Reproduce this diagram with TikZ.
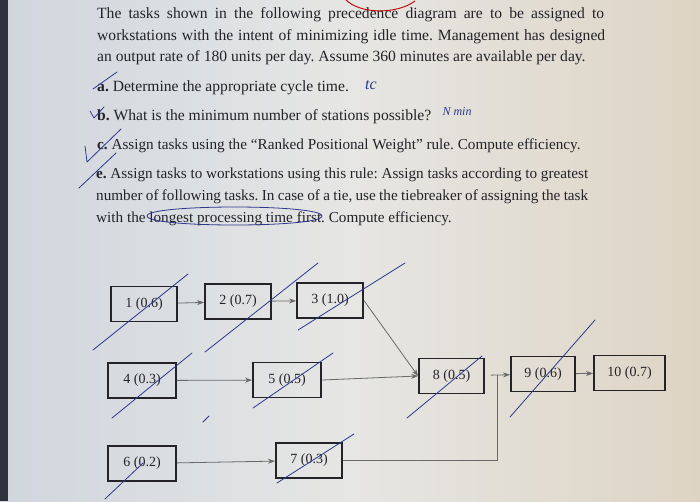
\documentclass[tikz,border=0pt]{standalone}
\usepackage{fontspec}
\setmainfont{Liberation Serif}
\usetikzlibrary{arrows.meta}
\tikzset{>={Stealth[length=7pt,width=5pt]}}
\frenchspacing
\definecolor{ink}{RGB}{35,35,40}
\definecolor{penblue}{RGB}{45,55,140}
\definecolor{wire}{RGB}{105,105,105}
\definecolor{pageL}{RGB}{208,214,222}
\definecolor{pageM}{RGB}{230,230,228}
\definecolor{pageR}{RGB}{222,212,196}
\definecolor{edge}{RGB}{45,50,60}

\begin{document}
\begin{tikzpicture}[x=1pt,y=-1pt,
  task/.style={draw=ink,line width=1.9pt,minimum height=35pt,inner sep=0pt,
    text=ink,font=\fontsize{14}{16}\selectfont},
  flow/.style={->,draw=wire,line width=0.8pt},
  scribble/.style={draw=penblue,line width=0.8pt,line cap=round,line join=round},
  txt/.style={anchor=base west,inner sep=0pt,text=ink,font=\fontsize{15.6}{18}\selectfont},
  txtlow/.style={txt,font=\fontsize{15.2}{18}\selectfont},
  hand/.style={inner sep=0pt,text=penblue,font=\fontsize{16}{16}\selectfont\itshape}]
\useasboundingbox (0,0) rectangle (700,501);
\shade[left color=pageL,right color=pageR,middle color=pageM] (0,0) rectangle (700,501);
\fill[edge] (0,0) rectangle (8,501);

% problem text
\node[txt] (l1) at (97,18) {\makebox[507pt][s]{The tasks shown in the following precedence diagram are to be assigned to}};
\node[txt] (l2) at (97,40) {\makebox[508pt][s]{workstations with the intent of minimizing idle time. Management has designed}};
\node[txt] (l3) at (97,61) {an output rate of 180 units per day. Assume 360 minutes are available per day.};
\node[txt] (qa) at (97,91) {\textbf{a.} Determine the appropriate cycle time.};
\node[txt] (qb) at (97,120) {\textbf{b.} What is the minimum number of stations possible?};
\node[txtlow] (qc) at (97,149) {\textbf{c.} Assign tasks using the “Ranked Positional Weight” rule. Compute efficiency.};
\node[txtlow] (qe) at (96,178) {\makebox[492pt][s]{\textbf{e.} Assign tasks to workstations using this rule: Assign tasks according to greatest}};
\node[txtlow] (qe2) at (96,200) {\makebox[492pt][s]{number of following tasks. In case of a tie, use the tiebreaker of assigning the task}};
\node[txtlow] (qe3) at (96,222) {with the longest processing time first. Compute efficiency.};

% precedence diagram
\foreach \name/\lbl/\x/\y/\w in
    {t1/1 (0.6)/144/304/66, t2/2 (0.7)/238/301.5/66, t3/3 (1.0)/330/300.5/66,
     t4/4 (0.3)/142/380.5/68, t5/5 (0.5)/287/380/68,
     t6/6 (0.2)/142/463.5/68, t7/7 (0.3)/309/460.5/66,
     t8/8 (0.5)/451.5/376/65, t9/9 (0.6)/543/374/64, t10/10 (0.7)/629.5/373/71}
  \node[task,minimum width=\w] (\name) at (\x,\y) {\lbl};

\draw[flow] (t1) -- (t2);
\draw[flow] (t2) -- (t3);
\draw[flow] (t3.east) -- (t8.west);
\draw[flow] (t4) -- (t5);
\draw[flow] (t5.east) -- (t8.west);
\draw[flow] (t6) -- (t7);
\draw[flow,shorten <=6pt] (t8) -- (t9);
\coordinate (j89) at (497,375);
\draw[draw=wire,line width=0.8pt] (t7.east) -| (j89);
\draw[flow] (t9) -- (t10);

% pen marks
\draw[draw=red!75!black,line width=0.9pt] (345,-1) .. controls (360,15) and (398,14) .. (415,1);
\draw[scribble] (93,89) -- (117,72);
\draw[scribble] (90,111) -- (94,118) -- (104,107);
\draw[scribble] (85,146) -- (87,162) -- (121,129);
\draw[scribble] (79,188) -- (116,153);
\node[hand] (tc) at (371,85) {tc};
\node[hand,font=\fontsize{12}{12}\selectfont\itshape] (nmin) at (457,112) {N min};
\draw[scribble] (147,216) .. controls (147,204) and (322,204) .. (322,216)
  .. controls (322,228) and (147,228) .. (147,216);
\draw[scribble] (93,350) -- (188,274);
\draw[scribble] (205,352) -- (318,263);
\draw[scribble] (298,330) -- (405,263);
\draw[scribble] (112,418) -- (192,353);
\draw[scribble] (253,408) -- (333,353);
\draw[scribble] (203,422) -- (209,416);
\draw[scribble] (105,499) -- (143,463);
\draw[scribble] (277,483) -- (354,434);
\draw[scribble] (407,418) -- (482,356);
\draw[scribble] (510,417) -- (595,320);
\end{tikzpicture}
\end{document}
